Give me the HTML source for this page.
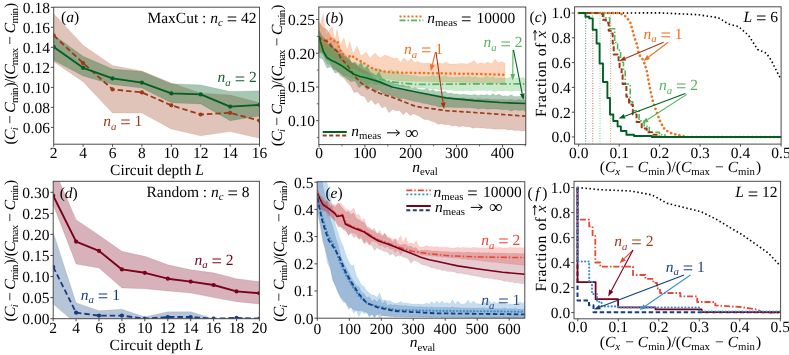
<!DOCTYPE html>
<html><head><meta charset="utf-8"><style>
html,body{margin:0;padding:0;background:#fff;width:789px;height:355px;overflow:hidden}
svg{display:block;text-rendering:geometricPrecision;will-change:transform}
text{font-family:"Liberation Serif",serif;font-size:15.5px}
</style></head><body>
<svg width="789" height="355" viewBox="0 0 789 355">
<rect width="789" height="355" fill="#fff"/>
<defs>
<clipPath id="ca"><rect x="53.7" y="7.2" width="205.8" height="137"/></clipPath>
<clipPath id="cb"><rect x="318.8" y="7" width="207" height="137.1"/></clipPath>
<clipPath id="cc"><rect x="574.6" y="6.8" width="206.5" height="136.7"/></clipPath>
<clipPath id="cd"><rect x="53.2" y="181.3" width="206.2" height="137.4"/></clipPath>
<clipPath id="ce"><rect x="317.2" y="181.7" width="207.6" height="136.5"/></clipPath>
<clipPath id="cf"><rect x="574" y="181.3" width="206.6" height="137.5"/></clipPath>
</defs>
<g clip-path="url(#ca)">
<polygon points="53.7,13.8 83.1,45.3 112.5,65.5 141.9,70.9 171.3,82.9 200.7,93.3 230.1,95 259.5,102.8 259.5,138.3 230.1,131.6 200.7,135.8 171.3,129 141.9,113.1 112.5,113.1 83.1,81.7 53.7,61.8" fill="#9c3a16" fill-opacity="0.3" stroke="#9c3a16" stroke-opacity="0.18" stroke-width="0.6"/>
<polygon points="53.7,34.9 83.1,56.3 112.5,69.1 141.9,71.6 171.3,83.8 200.7,84.9 230.1,91.6 259.5,90.8 259.5,116 230.1,120.7 200.7,103.9 171.3,102.8 141.9,88.1 112.5,84.4 83.1,75.9 53.7,60.3" fill="#005f23" fill-opacity="0.35" stroke="#005f23" stroke-opacity="0.21" stroke-width="0.6"/>
<polyline points="53.7,35.4 83.1,63.1 112.5,89.4 141.9,92.4 171.3,105.3 200.7,114.5 230.1,112.8 259.5,120.7" fill="none" stroke="#9c3a16" stroke-width="1.8" stroke-linejoin="round" stroke-linecap="butt" stroke-dasharray="5.5,3" />
<circle cx="53.7" cy="35.4" r="2.1" fill="#9c3a16"/>
<circle cx="83.1" cy="63.1" r="2.1" fill="#9c3a16"/>
<circle cx="112.5" cy="89.4" r="2.1" fill="#9c3a16"/>
<circle cx="141.9" cy="92.4" r="2.1" fill="#9c3a16"/>
<circle cx="171.3" cy="105.3" r="2.1" fill="#9c3a16"/>
<circle cx="200.7" cy="114.5" r="2.1" fill="#9c3a16"/>
<circle cx="230.1" cy="112.8" r="2.1" fill="#9c3a16"/>
<circle cx="259.5" cy="120.7" r="2.1" fill="#9c3a16"/>
<polyline points="53.7,46.9 83.1,67.8 112.5,78.4 141.9,82.6 171.3,93.4 200.7,94.4 230.1,106.6 259.5,104.9" fill="none" stroke="#005f23" stroke-width="1.9" stroke-linejoin="round" stroke-linecap="butt" />
<circle cx="53.7" cy="46.9" r="2.1" fill="#005f23"/>
<circle cx="83.1" cy="67.8" r="2.1" fill="#005f23"/>
<circle cx="112.5" cy="78.4" r="2.1" fill="#005f23"/>
<circle cx="141.9" cy="82.6" r="2.1" fill="#005f23"/>
<circle cx="171.3" cy="93.4" r="2.1" fill="#005f23"/>
<circle cx="200.7" cy="94.4" r="2.1" fill="#005f23"/>
<circle cx="230.1" cy="106.6" r="2.1" fill="#005f23"/>
<circle cx="259.5" cy="104.9" r="2.1" fill="#005f23"/>
</g>
<rect x="53.7" y="7.2" width="205.8" height="137" fill="none" stroke="#4a4a4a" stroke-width="1"/>
<line x1="50.9" y1="127.4" x2="53.7" y2="127.4" stroke="#4a4a4a" stroke-width="1"/>
<text x="49.9" y="132.8" text-anchor="end" class="t">0.06</text>
<line x1="50.9" y1="107.4" x2="53.7" y2="107.4" stroke="#4a4a4a" stroke-width="1"/>
<text x="49.9" y="112.8" text-anchor="end" class="t">0.08</text>
<line x1="50.9" y1="87.4" x2="53.7" y2="87.4" stroke="#4a4a4a" stroke-width="1"/>
<text x="49.9" y="92.8" text-anchor="end" class="t">0.10</text>
<line x1="50.9" y1="67.3" x2="53.7" y2="67.3" stroke="#4a4a4a" stroke-width="1"/>
<text x="49.9" y="72.7" text-anchor="end" class="t">0.12</text>
<line x1="50.9" y1="47.3" x2="53.7" y2="47.3" stroke="#4a4a4a" stroke-width="1"/>
<text x="49.9" y="52.7" text-anchor="end" class="t">0.14</text>
<line x1="50.9" y1="27.3" x2="53.7" y2="27.3" stroke="#4a4a4a" stroke-width="1"/>
<text x="49.9" y="32.7" text-anchor="end" class="t">0.16</text>
<line x1="50.9" y1="7.3" x2="53.7" y2="7.3" stroke="#4a4a4a" stroke-width="1"/>
<text x="49.9" y="12.7" text-anchor="end" class="t">0.18</text>
<line x1="53.7" y1="144.2" x2="53.7" y2="146.7" stroke="#4a4a4a" stroke-width="1"/>
<text x="53.7" y="158.4" text-anchor="middle" class="t">2</text>
<line x1="83.1" y1="144.2" x2="83.1" y2="146.7" stroke="#4a4a4a" stroke-width="1"/>
<text x="83.1" y="158.4" text-anchor="middle" class="t">4</text>
<line x1="112.5" y1="144.2" x2="112.5" y2="146.7" stroke="#4a4a4a" stroke-width="1"/>
<text x="112.5" y="158.4" text-anchor="middle" class="t">6</text>
<line x1="141.9" y1="144.2" x2="141.9" y2="146.7" stroke="#4a4a4a" stroke-width="1"/>
<text x="141.9" y="158.4" text-anchor="middle" class="t">8</text>
<line x1="171.3" y1="144.2" x2="171.3" y2="146.7" stroke="#4a4a4a" stroke-width="1"/>
<text x="171.3" y="158.4" text-anchor="middle" class="t">10</text>
<line x1="200.7" y1="144.2" x2="200.7" y2="146.7" stroke="#4a4a4a" stroke-width="1"/>
<text x="200.7" y="158.4" text-anchor="middle" class="t">12</text>
<line x1="230.1" y1="144.2" x2="230.1" y2="146.7" stroke="#4a4a4a" stroke-width="1"/>
<text x="230.1" y="158.4" text-anchor="middle" class="t">14</text>
<line x1="259.5" y1="144.2" x2="259.5" y2="146.7" stroke="#4a4a4a" stroke-width="1"/>
<text x="259.5" y="158.4" text-anchor="middle" class="t">16</text>
<text x="61" y="22.3" fill="#000" font-size="15.5" text-anchor="start" ><tspan>(</tspan><tspan font-style="italic">a</tspan><tspan>)</tspan></text>
<text x="256.5" y="22.5" fill="#000" font-size="15.5" text-anchor="end" ><tspan>MaxCut : </tspan><tspan font-style="italic">n</tspan><tspan font-size="10.8" font-style="italic" dy="3.7">c</tspan><tspan dy="-3.7">​</tspan><tspan> <tspan font-size="18.5" dy="2.4">=</tspan><tspan dy="-2.4"> </tspan>42</tspan></text>
<text x="217.6" y="82.3" fill="#1a5e34" font-size="15.5" text-anchor="start" ><tspan font-style="italic">n</tspan><tspan font-size="10.8" font-style="italic" dy="3.7">a</tspan><tspan dy="-3.7">​</tspan><tspan> <tspan font-size="18.5" dy="2.4">=</tspan><tspan dy="-2.4"> </tspan>2</tspan></text>
<text x="103.2" y="125.9" fill="#9c3a16" font-size="15.5" text-anchor="start" ><tspan font-style="italic">n</tspan><tspan font-size="10.8" font-style="italic" dy="3.7">a</tspan><tspan dy="-3.7">​</tspan><tspan> <tspan font-size="18.5" dy="2.4">=</tspan><tspan dy="-2.4"> </tspan>1</tspan></text>
<text x="157" y="175" fill="#000" font-size="15.5" text-anchor="middle" ><tspan>Circuit depth </tspan><tspan font-style="italic">L</tspan></text>
<text transform="translate(15.2,73.7) rotate(-90)" text-anchor="middle" font-size="15.5" textLength="141.5" lengthAdjust="spacing">(<tspan font-style="italic">C</tspan><tspan font-size="10.8" dy="3.1" font-style="italic">i</tspan><tspan dy="-3.1"> </tspan> − <tspan font-style="italic">C</tspan><tspan font-size="10.8" dy="3.1">min</tspan><tspan dy="-3.1"> </tspan>)/(<tspan font-style="italic">C</tspan><tspan font-size="10.8" dy="3.1">max</tspan><tspan dy="-3.1"> </tspan> − <tspan font-style="italic">C</tspan><tspan font-size="10.8" dy="3.1">min</tspan><tspan dy="-3.1"> </tspan>)</text>
<g clip-path="url(#cb)">
<polygon points="319,21.9 323,27.6 327,29.6 331,36.7 335,39.1 339,46.2 343,51.7 347,56.7 351,61.8 355,64.3 359,67.3 363,70.2 367,71.4 371,75.1 375,78.2 379,81.3 383,82.7 387,86 391,87.9 395,89.2 399,88.9 403,90.8 407,90.6 411,92.3 415,92.9 419,93.8 423,94.3 427,95.2 431,95.9 435,96.7 439,96.9 443,97.9 447,97.5 451,98.2 455,98.3 459,98.5 463,97.8 467,98.7 471,98.5 475,98.9 479,98.6 483,99.2 487,98.5 491,99.4 495,99.4 499,99.7 503,99.4 507,99.9 511,99.4 515,100.3 519,99.4 523,100.6 525.8,100.3 525.8,131.3 525.5,130.5 522,131.2 518.5,130.3 515,130.6 511.5,129.7 508,129.9 504.5,129.1 501,129.3 497.5,128.9 494,129.2 490.5,128.4 487,128.5 483.5,128 480,127.9 476.5,127.6 473,128.2 469.5,126.7 466,126.8 462.5,125.9 459,126.8 455.5,125.4 452,126.1 448.5,124.6 445,124.7 441.5,123.7 438,124.2 434.5,121.9 431,120.9 427.5,119.5 424,119.4 420.5,117.1 417,115.3 413.5,113.8 410,115.4 406.5,111.8 403,114.8 399.5,110.5 396,110.7 392.5,109.3 389,112.7 385.5,106.3 382,108.1 378.5,102.4 375,104.6 371.5,99.6 368,102.8 364.5,96.4 361,95.8 357.5,91.9 354,92.5 350.5,85.7 347,82.3 343.5,77.5 340,75.7 336.5,69.9 333,69.3 329.5,61.5 326,59.9 322.5,52.8 319,52.7" fill="#9c3a16" fill-opacity="0.3" stroke="#9c3a16" stroke-opacity="0.18" stroke-width="0.6"/>
<polygon points="319,30 323.1,13.4 326,35 330,30 332,26 335,40 337,29.4 340,45 344,38 347,50 350,41.3 353,54 357,46 361,56 366,52 370,58 375,53 380,58 385,55 394,58.5 397,58.1 400.5,62.4 404,57.4 407.5,61.9 411,58.2 414.5,62.5 418,61.5 421.5,63.3 425,63.3 428.5,63 432,63.6 435.5,63.9 439,62.7 442.5,63.8 446,62 449.5,64 453,64.1 456.5,63.9 460,63.5 463.5,63.6 467,64 470.5,62.9 474,60.5 477.5,64 481,62.7 484.5,63.7 488,62.1 491.5,64.1 495,59.2 498.5,62.8 502,61.5 505,63.6 505,83.2 400,81 380,78 360,72 340,62 319,50" fill="#f07020" fill-opacity="0.3" stroke="#f07020" stroke-opacity="0.18" stroke-width="0.6"/>
<polygon points="319,33.3 322,38.8 325,42.1 328,46.9 331,44.5 334,51.5 337,54.2 340,55.6 343,56 346,61 349,59.9 352,64.4 355,62 358,64.5 361,61.6 364,66.5 367,66.8 370,68.6 373,69 376,69.6 379,68.4 382,71.1 385,70.9 388,73.1 391,69.2 394,73.2 397,70.1 400,74.3 403,73.1 406,74.9 409,75.1 412,75.6 415,75.4 418,76.5 421,76.7 424,76.7 427,76.3 430,76.6 433,74.7 436,76.8 439,74.9 442,76.7 445,75 448,77.2 451,76.9 454,77.4 457,77.1 460,77.5 463,76.2 466,77.2 469,75.8 472,77.6 475,76.4 478,77.6 481,77.9 484,77.8 487,76.1 490,77.9 493,76.6 496,78.2 499,78.1 502,78.1 505,77.9 508,78.3 511,76.5 514,78.6 517,78 520,78.4 523,77.3 525.8,79 525.8,90.9 523,90.7 519,90.7 515,90.8 511,91.3 507,90.6 503,90.9 499,90.6 495,91.5 491,90.6 487,90.6 483,90.6 479,90.3 475,90.4 471,90.9 467,90.3 463,91 459,90.4 455,90.7 451,90 447,90.1 443,89.5 439,89.8 435,88.9 431,89 427,88.5 423,88.1 419,87.9 415,87.8 411,87.4 407,87.3 403,86.8 399,86.6 395,85.1 391,88.5 387,84.9 383,85.5 379,84 375,85 371,82.6 367,86.2 363,80.8 359,80.6 355,78.7 351,77.9 347,75 343,77.2 339,71.4 335,69.2 331,65 327,64 323,55.1 319,51.1" fill="#55b55c" fill-opacity="0.3" stroke="#55b55c" stroke-opacity="0.18" stroke-width="0.6"/>
<polygon points="319,30.2 322,36 325,38.9 328,44.6 331,42.4 334,48.3 337,49.1 340,53.3 343,53.4 346,58.7 349,57.4 352,63.4 355,62.1 358,66.5 361,62.4 364,69.3 367,66 370,72 373,73.4 376,75.8 379,71.8 382,78 385,79.7 388,81.5 391,82 394,83.7 397,84.1 400,85.3 403,84.8 406,86.6 409,85.9 412,88.6 415,87.5 418,89.1 421,89.6 424,89.8 427,88.6 430,90.9 433,89.5 436,91.7 439,91.2 442,92.1 445,91.3 448,93.4 451,93 454,94 457,94 460,94.7 463,94.3 466,94.6 469,95.1 472,94.9 475,94.4 478,95.4 481,94.8 484,95.3 487,94.6 490,95.8 493,93.8 496,95.6 499,94 502,96.1 505,95.7 508,96.4 511,94.8 514,96.4 517,96.4 520,96.5 523,94.9 525.8,96.5 525.8,111.7 523,110.1 519,110.6 515,109.7 511,110.9 507,109.4 503,109.8 499,109.2 495,108.9 491,109 487,109.3 483,108.3 479,109.1 475,108.3 471,107.8 467,107.7 463,107.5 459,107.5 455,107.5 451,107.2 447,107.3 443,107 439,106.9 435,105.6 431,105 427,103.8 423,103.2 419,102.1 415,101.6 411,100.4 407,99.4 403,98.3 399,98.9 395,96.4 391,95.7 387,93.9 383,93.8 379,89.6 375,93.2 371,86.8 367,90 363,84.7 359,87.8 355,80.8 351,81.7 347,78.7 343,75.2 339,72 335,73.1 331,66.8 327,68.1 323,59.5 319,57.5" fill="#005f23" fill-opacity="0.32" stroke="#005f23" stroke-opacity="0.192" stroke-width="0.6"/>
<polyline points="319,38 323.6,44.6 327,40 330.4,38.7 334.2,41.3 337.6,41.3 339.6,49.7 343.4,55.3 346.4,58.1 351.5,55.3 354.9,58.1 359.9,60.7 366,64.6 374,69.2 384,71.5 394,72.5 420,73 450,73.5 480,74 505,74.8" fill="none" stroke="#f07020" stroke-width="2.5" stroke-linejoin="round" stroke-linecap="round" stroke-dasharray="0.1,4.3" />
<polyline points="319,34 321,44 323.6,51 328,57 333,60.5 341.4,64 354,71.5 366.8,76.8 392,81.9 416,84.4 460,84 525.8,83.8" fill="none" stroke="#55b55c" stroke-width="1.8" stroke-linejoin="round" stroke-linecap="butt" stroke-dasharray="7,2.5,1.5,2.5" />
<polyline points="319,36 320.2,38.7 327,41.3 332.9,48 338,52.2 341.3,59 345.6,63.2 350,69 354,75.5 360,82 366.8,87 379.5,93.3 392,97.1 416,106.5 446,110.6 474,112.5 525.8,116.2" fill="none" stroke="#9c3a16" stroke-width="1.7" stroke-linejoin="round" stroke-linecap="butt" stroke-dasharray="4.5,2.5" />
<polyline points="319,36 320.5,42 323.6,52 327,57.5 331.2,60.3 336,62.5 341.4,65.4 347,69.5 354,74.3 360,76.5 366.8,78 379.5,81.9 392,87 416,92 446,97.9 474,100.7 500,102.5 525.8,103.5" fill="none" stroke="#005f23" stroke-width="1.7" stroke-linejoin="round" stroke-linecap="butt" />
</g>
<rect x="318.8" y="7" width="207" height="137.6" fill="none" stroke="#4a4a4a" stroke-width="1"/>
<line x1="316" y1="120.7" x2="318.8" y2="120.7" stroke="#4a4a4a" stroke-width="1"/>
<text x="315" y="126.1" text-anchor="end" class="t">0.10</text>
<line x1="316" y1="87" x2="318.8" y2="87" stroke="#4a4a4a" stroke-width="1"/>
<text x="315" y="92.4" text-anchor="end" class="t">0.15</text>
<line x1="316" y1="53.2" x2="318.8" y2="53.2" stroke="#4a4a4a" stroke-width="1"/>
<text x="315" y="58.6" text-anchor="end" class="t">0.20</text>
<line x1="316" y1="19.5" x2="318.8" y2="19.5" stroke="#4a4a4a" stroke-width="1"/>
<text x="315" y="24.9" text-anchor="end" class="t">0.25</text>
<line x1="316.8" y1="137.6" x2="318.8" y2="137.6" stroke="#4a4a4a" stroke-width="0.8"/>
<line x1="316.8" y1="103.8" x2="318.8" y2="103.8" stroke="#4a4a4a" stroke-width="0.8"/>
<line x1="316.8" y1="70.1" x2="318.8" y2="70.1" stroke="#4a4a4a" stroke-width="0.8"/>
<line x1="316.8" y1="36.4" x2="318.8" y2="36.4" stroke="#4a4a4a" stroke-width="0.8"/>
<line x1="319" y1="144.6" x2="319" y2="147.1" stroke="#4a4a4a" stroke-width="1"/>
<text x="319" y="157.8" text-anchor="middle" class="t">0</text>
<line x1="364.9" y1="144.6" x2="364.9" y2="147.1" stroke="#4a4a4a" stroke-width="1"/>
<text x="364.9" y="157.8" text-anchor="middle" class="t">100</text>
<line x1="410.7" y1="144.6" x2="410.7" y2="147.1" stroke="#4a4a4a" stroke-width="1"/>
<text x="410.7" y="157.8" text-anchor="middle" class="t">200</text>
<line x1="456.6" y1="144.6" x2="456.6" y2="147.1" stroke="#4a4a4a" stroke-width="1"/>
<text x="456.6" y="157.8" text-anchor="middle" class="t">300</text>
<line x1="502.4" y1="144.6" x2="502.4" y2="147.1" stroke="#4a4a4a" stroke-width="1"/>
<text x="502.4" y="157.8" text-anchor="middle" class="t">400</text>
<line x1="341.9" y1="144.6" x2="341.9" y2="146.4" stroke="#4a4a4a" stroke-width="0.8"/>
<line x1="387.8" y1="144.6" x2="387.8" y2="146.4" stroke="#4a4a4a" stroke-width="0.8"/>
<line x1="433.6" y1="144.6" x2="433.6" y2="146.4" stroke="#4a4a4a" stroke-width="0.8"/>
<line x1="479.5" y1="144.6" x2="479.5" y2="146.4" stroke="#4a4a4a" stroke-width="0.8"/>
<line x1="525.3" y1="144.6" x2="525.3" y2="146.4" stroke="#4a4a4a" stroke-width="0.8"/>
<text x="325.4" y="22.5" fill="#000" font-size="15.5" text-anchor="start" ><tspan>(</tspan><tspan font-style="italic">b</tspan><tspan>)</tspan></text>
<polyline points="399.5,16.5 423.4,16.5" fill="none" stroke="#f07020" stroke-width="1.8" stroke-linejoin="round" stroke-linecap="butt" stroke-dasharray="2,2" />
<polyline points="399.5,20.3 423.4,20.3" fill="none" stroke="#55b55c" stroke-width="1.8" stroke-linejoin="round" stroke-linecap="butt" stroke-dasharray="6,2,1.5,2" />
<text x="427.2" y="22.5" fill="#000" font-size="15.5" text-anchor="start" ><tspan font-style="italic">n</tspan><tspan font-size="10.8" dy="3.4">meas</tspan><tspan dy="-3.4"> </tspan><tspan> <tspan font-size="18.5" dy="2.4">=</tspan><tspan dy="-2.4"> </tspan> 10000</tspan></text>
<polyline points="322.7,132 346.8,132" fill="none" stroke="#005f23" stroke-width="2" stroke-linejoin="round" stroke-linecap="butt" />
<polyline points="322.7,135.4 346.8,135.4" fill="none" stroke="#9c3a16" stroke-width="2" stroke-linejoin="round" stroke-linecap="butt" stroke-dasharray="4,2.5" />
<text x="351.3" y="136" fill="#000" font-size="15.5" text-anchor="start" ><tspan font-style="italic">n</tspan><tspan font-size="10.8" dy="3.4">meas</tspan><tspan dy="-3.4"> </tspan></text>
<line x1="387" y1="132.8" x2="399.1" y2="132.8" stroke="#000" stroke-width="1"/>
<polyline points="395.8,129.8 399.6,132.8 395.8,135.8" fill="none" stroke="#000" stroke-width="1"/>
<text x="405" y="138.6" style="font-size:19px">∞</text>
<text x="404" y="54" fill="#f07020" font-size="15.5" text-anchor="start" ><tspan font-style="italic">n</tspan><tspan font-size="10.8" font-style="italic" dy="3.7">a</tspan><tspan dy="-3.7">​</tspan><tspan> <tspan font-size="18.5" dy="2.4">=</tspan><tspan dy="-2.4"> </tspan>1</tspan></text>
<text x="483.5" y="47.3" fill="#55b55c" font-size="15.5" text-anchor="start" ><tspan font-style="italic">n</tspan><tspan font-size="10.8" font-style="italic" dy="3.7">a</tspan><tspan dy="-3.7">​</tspan><tspan> <tspan font-size="18.5" dy="2.4">=</tspan><tspan dy="-2.4"> </tspan>2</tspan></text>
<line x1="435.5" y1="52" x2="432.4" y2="64.7" stroke="#f07020" stroke-width="1.1"/>
<polygon points="430,64.1 430.8,71 434.7,65.3" fill="#f07020"/>
<line x1="436" y1="52" x2="443.1" y2="102.6" stroke="#9c3a16" stroke-width="1.1"/>
<polygon points="440.7,102.9 444,109 445.5,102.2" fill="#9c3a16"/>
<line x1="513" y1="50" x2="512.8" y2="73.9" stroke="#55b55c" stroke-width="1.1"/>
<polygon points="510.4,73.9 512.8,80.4 515.2,73.9" fill="#55b55c"/>
<line x1="513.5" y1="50" x2="522.2" y2="93.6" stroke="#005f23" stroke-width="1.1"/>
<polygon points="519.9,94.1 523.5,100 524.6,93.2" fill="#005f23"/>
<text x="425" y="171.8" fill="#000" font-size="15.5" text-anchor="middle" ><tspan font-style="italic">n</tspan><tspan font-size="10.8" dy="3.4">eval</tspan><tspan dy="-3.4"> </tspan></text>
<text transform="translate(281.6,75.4) rotate(-90)" text-anchor="middle" font-size="15.5" textLength="141.5" lengthAdjust="spacing">(<tspan font-style="italic">C</tspan><tspan font-size="10.8" dy="3.1" font-style="italic">i</tspan><tspan dy="-3.1"> </tspan> − <tspan font-style="italic">C</tspan><tspan font-size="10.8" dy="3.1">min</tspan><tspan dy="-3.1"> </tspan>)/(<tspan font-style="italic">C</tspan><tspan font-size="10.8" dy="3.1">max</tspan><tspan dy="-3.1"> </tspan> − <tspan font-style="italic">C</tspan><tspan font-size="10.8" dy="3.1">min</tspan><tspan dy="-3.1"> </tspan>)</text>
<g clip-path="url(#cc)">
<line x1="585.7" y1="13" x2="585.7" y2="144" stroke="#005f23" stroke-width="0.9" stroke-dasharray="1,1.5" stroke-opacity="0.8"/>
<line x1="592.8" y1="13" x2="592.8" y2="144" stroke="#9c3a16" stroke-width="0.9" stroke-dasharray="1,1.5" stroke-opacity="0.8"/>
<line x1="600" y1="13" x2="600" y2="144" stroke="#55b55c" stroke-width="0.9" stroke-dasharray="1,1.5" stroke-opacity="0.8"/>
<line x1="610.6" y1="13" x2="610.6" y2="144" stroke="#f07020" stroke-width="0.9" stroke-dasharray="1,1.5" stroke-opacity="0.8"/>
<polyline points="578.7,13 660,12.9 698,14.7 718.3,17.7 728.4,24 738.6,26.6 748.7,35.5 757.6,49.4 766.4,53.2 771.5,60.8 779.1,76 782,80" fill="none" stroke="#000" stroke-width="1.6" stroke-linejoin="round" stroke-linecap="butt" stroke-dasharray="1.5,2.5" />
<polyline points="578.7,13 619.6,13 626.5,16.9 630.4,22.8 632.4,29.7 634.4,37.6 637.3,45.5 638.8,54.1 643.4,60.3 646.5,69.6 649.6,86.7 652.7,100.6 655.8,109.9 660.5,122.3 665.1,130 672,133.5 680,135.5 688,137 782,137" fill="none" stroke="#f07020" stroke-width="2.6" stroke-linejoin="round" stroke-linecap="round" stroke-dasharray="0.1,4.2" />
<polyline points="578.7,13 602.8,13 603.8,13.5 603.8,17.9 609.7,17.9 609.7,28.7 614.7,28.7 614.7,42.5 617.6,42.5 617.6,50.4 620.6,50.4 620.6,62.2 623.5,62.2 623.5,71.1 625.2,71.1 625.2,84 630.2,84 630.2,101.8 632.8,101.8 632.8,110.7 639.1,110.7 639.1,120.9 644.2,120.9 644.2,126.4 649.3,126.4 649.3,132.3 659.4,132.3 659.4,134.8 665,134.8 665,137 782,137" fill="none" stroke="#55b55c" stroke-width="1.6" stroke-linejoin="round" stroke-linecap="butt" stroke-dasharray="6,2,1.5,2" />
<polyline points="578.7,13 599,13 601.8,13.8 602.8,13.8 602.8,19.8 605.8,19.8 605.8,22.8 608.7,22.8 608.7,30.7 610.7,30.7 610.7,33.6 612.7,33.6 612.7,43.5 613.7,43.5 613.7,54.4 617.6,54.4 617.6,55.3 618.6,55.3 618.6,61.3 619.6,61.3 619.6,67.2 621.6,67.2 621.6,75 622.6,75 622.6,84 626.4,84 626.4,96.8 629,96.8 629,104.4 632.8,104.4 632.8,114.5 636.6,114.5 636.6,122 641.7,122 641.7,128.5 646.7,128.5 646.7,132.3 651.8,132.3 651.8,134.8 659.4,134.8 659.4,137 782,137" fill="none" stroke="#9c3a16" stroke-width="2.0" stroke-linejoin="round" stroke-linecap="butt" stroke-dasharray="5,2.5" />
<polyline points="578.7,13 585.4,13 585.4,16.8 589.3,16.8 589.3,18.4 592.7,18.4 592.7,29.7 596.6,29.7 596.6,43.5 599.6,43.5 599.6,63.5 603,63.5 603,82 607.4,82 607.4,98 610,98 610,114.5 613.3,114.5 613.3,121 617.6,121 617.6,126.4 620.9,126.4 620.9,131 626.4,131 626.4,134.8 634,134.8 634,136 651.8,136 651.8,137 782,137" fill="none" stroke="#005f23" stroke-width="1.9" stroke-linejoin="round" stroke-linecap="butt" />
</g>
<rect x="574.6" y="6.8" width="206.5" height="137.3" fill="none" stroke="#4a4a4a" stroke-width="1"/>
<line x1="571.8" y1="137" x2="574.6" y2="137" stroke="#4a4a4a" stroke-width="1"/>
<text x="570.8" y="142.4" text-anchor="end" class="t">0.0</text>
<line x1="571.8" y1="112.2" x2="574.6" y2="112.2" stroke="#4a4a4a" stroke-width="1"/>
<text x="570.8" y="117.6" text-anchor="end" class="t">0.2</text>
<line x1="571.8" y1="87.4" x2="574.6" y2="87.4" stroke="#4a4a4a" stroke-width="1"/>
<text x="570.8" y="92.8" text-anchor="end" class="t">0.4</text>
<line x1="571.8" y1="62.6" x2="574.6" y2="62.6" stroke="#4a4a4a" stroke-width="1"/>
<text x="570.8" y="68" text-anchor="end" class="t">0.6</text>
<line x1="571.8" y1="37.8" x2="574.6" y2="37.8" stroke="#4a4a4a" stroke-width="1"/>
<text x="570.8" y="43.2" text-anchor="end" class="t">0.8</text>
<line x1="571.8" y1="13" x2="574.6" y2="13" stroke="#4a4a4a" stroke-width="1"/>
<text x="570.8" y="18.4" text-anchor="end" class="t">1.0</text>
<line x1="578.7" y1="144.1" x2="578.7" y2="146.6" stroke="#4a4a4a" stroke-width="1"/>
<text x="578.7" y="157.7" text-anchor="middle" class="t">0.0</text>
<line x1="619.2" y1="144.1" x2="619.2" y2="146.6" stroke="#4a4a4a" stroke-width="1"/>
<text x="619.2" y="157.7" text-anchor="middle" class="t">0.1</text>
<line x1="659.6" y1="144.1" x2="659.6" y2="146.6" stroke="#4a4a4a" stroke-width="1"/>
<text x="659.6" y="157.7" text-anchor="middle" class="t">0.2</text>
<line x1="700.1" y1="144.1" x2="700.1" y2="146.6" stroke="#4a4a4a" stroke-width="1"/>
<text x="700.1" y="157.7" text-anchor="middle" class="t">0.3</text>
<line x1="740.5" y1="144.1" x2="740.5" y2="146.6" stroke="#4a4a4a" stroke-width="1"/>
<text x="740.5" y="157.7" text-anchor="middle" class="t">0.4</text>
<line x1="781" y1="144.1" x2="781" y2="146.6" stroke="#4a4a4a" stroke-width="1"/>
<text x="781" y="157.7" text-anchor="middle" class="t">0.5</text>
<text x="529.5" y="21.8" fill="#000" font-size="15.5" text-anchor="start" ><tspan>(</tspan><tspan font-style="italic">c</tspan><tspan>)</tspan></text>
<text x="778" y="21.5" fill="#000" font-size="15.5" text-anchor="end" ><tspan font-style="italic">L</tspan><tspan> <tspan font-size="18.5" dy="2.4">=</tspan><tspan dy="-2.4"> </tspan>6</tspan></text>
<text x="643.4" y="38.6" fill="#f07020" font-size="15.5" text-anchor="start" ><tspan font-style="italic">n</tspan><tspan font-size="10.8" font-style="italic" dy="3.7">a</tspan><tspan dy="-3.7">​</tspan><tspan> <tspan font-size="18.5" dy="2.4">=</tspan><tspan dy="-2.4"> </tspan>1</tspan></text>
<text x="658.9" y="89.8" fill="#55b55c" font-size="15.5" text-anchor="start" ><tspan font-style="italic">n</tspan><tspan font-size="10.8" font-style="italic" dy="3.7">a</tspan><tspan dy="-3.7">​</tspan><tspan> <tspan font-size="18.5" dy="2.4">=</tspan><tspan dy="-2.4"> </tspan>2</tspan></text>
<line x1="663.6" y1="42.3" x2="625.2" y2="58.4" stroke="#9c3a16" stroke-width="1.1"/>
<polygon points="624.3,56.2 619.2,60.9 626.1,60.6" fill="#9c3a16"/>
<line x1="668.2" y1="42.3" x2="648.6" y2="57" stroke="#f07020" stroke-width="1.1"/>
<polygon points="647.2,55.1 643.4,60.9 650,58.9" fill="#f07020"/>
<line x1="685.3" y1="93.5" x2="624.7" y2="116.3" stroke="#005f23" stroke-width="1.1"/>
<polygon points="623.8,114.1 618.6,118.6 625.5,118.6" fill="#005f23"/>
<line x1="686.8" y1="94.4" x2="647.4" y2="119.8" stroke="#55b55c" stroke-width="1.1"/>
<polygon points="646.1,117.8 641.9,123.3 648.7,121.8" fill="#55b55c"/>
<text x="680.5" y="172.2" text-anchor="middle" font-size="15.5">(<tspan font-style="italic">C</tspan><tspan font-size="10.8" dy="3.1" font-style="italic">x</tspan><tspan dy="-3.1"> </tspan> − <tspan font-style="italic">C</tspan><tspan font-size="10.8" dy="3.1">min</tspan><tspan dy="-3.1"> </tspan>)/(<tspan font-style="italic">C</tspan><tspan font-size="10.8" dy="3.1">max</tspan><tspan dy="-3.1"> </tspan> − <tspan font-style="italic">C</tspan><tspan font-size="10.8" dy="3.1">min</tspan><tspan dy="-3.1"> </tspan>)</text>
<text transform="translate(546.3,73.9) rotate(-90)" text-anchor="middle" font-size="15.5" textLength="86" lengthAdjust="spacing">Fraction of <tspan font-style="italic">x</tspan></text>
<line x1="535" y1="30.8" x2="535" y2="40.5" stroke="#000" stroke-width="0.9"/><polyline points="533.3,33.3 535,30.3 536.7,33.3" fill="none" stroke="#000" stroke-width="0.9"/>
<g clip-path="url(#cd)">
<polygon points="53.2,167 76.1,219.7 99,235.3 121.9,251.3 144.8,256.3 167.8,264.8 190.7,269.8 213.6,272.8 236.5,278.7 259.4,281.6 259.4,304 236.5,301.8 213.6,297.6 190.7,293 167.8,290.9 144.8,288.8 121.9,287.9 99,268.1 76.1,263.9 53.2,204.9" fill="#7b0019" fill-opacity="0.3" stroke="#7b0019" stroke-opacity="0.18" stroke-width="0.6"/>
<polygon points="53.2,232.3 76.1,302.7 99,310.7 121.9,309.2 144.8,317 167.8,311.8 190.7,311.8 213.6,318.7 236.5,317.4 259.4,318.7 259.4,322.9 236.5,320.8 213.6,322.9 190.7,320.8 167.8,320.8 144.8,322.9 121.9,320.8 99,322.9 76.1,323.8 53.2,304" fill="#133f7f" fill-opacity="0.3" stroke="#133f7f" stroke-opacity="0.18" stroke-width="0.6"/>
<polyline points="53.2,195.7 76.1,241.6 99,250.9 121.9,269.4 144.8,272.8 167.8,278.7 190.7,281.6 213.6,285 236.5,291.4 259.4,293.2" fill="none" stroke="#7b0019" stroke-width="1.9" stroke-linejoin="round" stroke-linecap="butt" />
<circle cx="53.2" cy="195.7" r="2.1" fill="#7b0019"/>
<circle cx="76.1" cy="241.6" r="2.1" fill="#7b0019"/>
<circle cx="99" cy="250.9" r="2.1" fill="#7b0019"/>
<circle cx="121.9" cy="269.4" r="2.1" fill="#7b0019"/>
<circle cx="144.8" cy="272.8" r="2.1" fill="#7b0019"/>
<circle cx="167.8" cy="278.7" r="2.1" fill="#7b0019"/>
<circle cx="190.7" cy="281.6" r="2.1" fill="#7b0019"/>
<circle cx="213.6" cy="285" r="2.1" fill="#7b0019"/>
<circle cx="236.5" cy="291.4" r="2.1" fill="#7b0019"/>
<circle cx="259.4" cy="293.2" r="2.1" fill="#7b0019"/>
<polyline points="53.2,266.9 76.1,312.7 99,315.6 121.9,315.6 144.8,318.7 167.8,317 190.7,317 213.6,318.7 236.5,317.9 259.4,318.7" fill="none" stroke="#133f7f" stroke-width="1.8" stroke-linejoin="round" stroke-linecap="butt" stroke-dasharray="5.5,3" />
<circle cx="53.2" cy="266.9" r="2.1" fill="#133f7f"/>
<circle cx="76.1" cy="312.7" r="2.1" fill="#133f7f"/>
<circle cx="99" cy="315.6" r="2.1" fill="#133f7f"/>
<circle cx="121.9" cy="315.6" r="2.1" fill="#133f7f"/>
<circle cx="144.8" cy="318.7" r="2.1" fill="#133f7f"/>
<circle cx="167.8" cy="317" r="2.1" fill="#133f7f"/>
<circle cx="190.7" cy="317" r="2.1" fill="#133f7f"/>
<circle cx="213.6" cy="318.7" r="2.1" fill="#133f7f"/>
<circle cx="236.5" cy="317.9" r="2.1" fill="#133f7f"/>
<circle cx="259.4" cy="318.7" r="2.1" fill="#133f7f"/>
</g>
<rect x="53.2" y="181.3" width="206.2" height="137.4" fill="none" stroke="#4a4a4a" stroke-width="1"/>
<line x1="50.4" y1="318.7" x2="53.2" y2="318.7" stroke="#4a4a4a" stroke-width="1"/>
<text x="49.4" y="324.1" text-anchor="end" class="t">0.00</text>
<line x1="50.4" y1="297.6" x2="53.2" y2="297.6" stroke="#4a4a4a" stroke-width="1"/>
<text x="49.4" y="303" text-anchor="end" class="t">0.05</text>
<line x1="50.4" y1="276.6" x2="53.2" y2="276.6" stroke="#4a4a4a" stroke-width="1"/>
<text x="49.4" y="282" text-anchor="end" class="t">0.10</text>
<line x1="50.4" y1="255.5" x2="53.2" y2="255.5" stroke="#4a4a4a" stroke-width="1"/>
<text x="49.4" y="260.9" text-anchor="end" class="t">0.15</text>
<line x1="50.4" y1="234.4" x2="53.2" y2="234.4" stroke="#4a4a4a" stroke-width="1"/>
<text x="49.4" y="239.8" text-anchor="end" class="t">0.20</text>
<line x1="50.4" y1="213.4" x2="53.2" y2="213.4" stroke="#4a4a4a" stroke-width="1"/>
<text x="49.4" y="218.8" text-anchor="end" class="t">0.25</text>
<line x1="50.4" y1="192.3" x2="53.2" y2="192.3" stroke="#4a4a4a" stroke-width="1"/>
<text x="49.4" y="197.7" text-anchor="end" class="t">0.30</text>
<line x1="53.2" y1="318.7" x2="53.2" y2="321.2" stroke="#4a4a4a" stroke-width="1"/>
<text x="53.2" y="332.9" text-anchor="middle" class="t">2</text>
<line x1="76.1" y1="318.7" x2="76.1" y2="321.2" stroke="#4a4a4a" stroke-width="1"/>
<text x="76.1" y="332.9" text-anchor="middle" class="t">4</text>
<line x1="99" y1="318.7" x2="99" y2="321.2" stroke="#4a4a4a" stroke-width="1"/>
<text x="99" y="332.9" text-anchor="middle" class="t">6</text>
<line x1="121.9" y1="318.7" x2="121.9" y2="321.2" stroke="#4a4a4a" stroke-width="1"/>
<text x="121.9" y="332.9" text-anchor="middle" class="t">8</text>
<line x1="144.8" y1="318.7" x2="144.8" y2="321.2" stroke="#4a4a4a" stroke-width="1"/>
<text x="144.8" y="332.9" text-anchor="middle" class="t">10</text>
<line x1="167.8" y1="318.7" x2="167.8" y2="321.2" stroke="#4a4a4a" stroke-width="1"/>
<text x="167.8" y="332.9" text-anchor="middle" class="t">12</text>
<line x1="190.7" y1="318.7" x2="190.7" y2="321.2" stroke="#4a4a4a" stroke-width="1"/>
<text x="190.7" y="332.9" text-anchor="middle" class="t">14</text>
<line x1="213.6" y1="318.7" x2="213.6" y2="321.2" stroke="#4a4a4a" stroke-width="1"/>
<text x="213.6" y="332.9" text-anchor="middle" class="t">16</text>
<line x1="236.5" y1="318.7" x2="236.5" y2="321.2" stroke="#4a4a4a" stroke-width="1"/>
<text x="236.5" y="332.9" text-anchor="middle" class="t">18</text>
<line x1="259.4" y1="318.7" x2="259.4" y2="321.2" stroke="#4a4a4a" stroke-width="1"/>
<text x="259.4" y="332.9" text-anchor="middle" class="t">20</text>
<text x="59.7" y="198.2" fill="#000" font-size="15.5" text-anchor="start" ><tspan>(</tspan><tspan font-style="italic">d</tspan><tspan>)</tspan></text>
<text x="249.5" y="196.6" fill="#000" font-size="15.5" text-anchor="end" ><tspan>Random : </tspan><tspan font-style="italic">n</tspan><tspan font-size="10.8" font-style="italic" dy="3.7">c</tspan><tspan dy="-3.7">​</tspan><tspan> <tspan font-size="18.5" dy="2.4">=</tspan><tspan dy="-2.4"> </tspan>8</tspan></text>
<text x="194.5" y="264.6" fill="#7b0019" font-size="15.5" text-anchor="start" ><tspan font-style="italic">n</tspan><tspan font-size="10.8" font-style="italic" dy="3.7">a</tspan><tspan dy="-3.7">​</tspan><tspan> <tspan font-size="18.5" dy="2.4">=</tspan><tspan dy="-2.4"> </tspan>2</tspan></text>
<text x="80.8" y="299.6" fill="#133f7f" font-size="15.5" text-anchor="start" ><tspan font-style="italic">n</tspan><tspan font-size="10.8" font-style="italic" dy="3.7">a</tspan><tspan dy="-3.7">​</tspan><tspan> <tspan font-size="18.5" dy="2.4">=</tspan><tspan dy="-2.4"> </tspan>1</tspan></text>
<text x="156.5" y="349.5" fill="#000" font-size="15.5" text-anchor="middle" ><tspan>Circuit depth </tspan><tspan font-style="italic">L</tspan></text>
<text transform="translate(15.2,250.7) rotate(-90)" text-anchor="middle" font-size="15.5" textLength="141.5" lengthAdjust="spacing">(<tspan font-style="italic">C</tspan><tspan font-size="10.8" dy="3.1" font-style="italic">i</tspan><tspan dy="-3.1"> </tspan> − <tspan font-style="italic">C</tspan><tspan font-size="10.8" dy="3.1">min</tspan><tspan dy="-3.1"> </tspan>)/(<tspan font-style="italic">C</tspan><tspan font-size="10.8" dy="3.1">max</tspan><tspan dy="-3.1"> </tspan> − <tspan font-style="italic">C</tspan><tspan font-size="10.8" dy="3.1">min</tspan><tspan dy="-3.1"> </tspan>)</text>
<g clip-path="url(#ce)">
<polygon points="317.3,149.7 319.9,159.8 322.5,164.8 325.1,178.1 327.7,184.9 330.3,196.1 332.9,210.5 335.5,224.8 338.1,233.2 340.7,240.8 343.3,246.7 345.9,255 348.5,261.2 351.1,265.4 353.7,265.3 356.3,276.1 358.9,280.3 361.5,285.2 364.1,286.4 366.7,291 369.3,293 371.9,295.1 374.5,295.5 377.1,297.3 379.7,292.9 382.3,300.2 384.9,300 387.5,300.7 390.1,300.8 392.7,302.5 395.3,303.5 397.9,303.1 400.5,301.4 403.1,303.2 405.7,303 408.3,303.4 410.9,304.1 413.5,303.9 416.1,303.9 418.7,304 421.3,304.3 423.9,304.5 426.5,303 429.1,304.2 431.7,301.7 434.3,303.9 436.9,300.9 439.5,303.7 442.1,301.1 444.7,303.4 447.3,302.6 449.9,304.1 452.5,299.8 455.1,304.3 457.7,301 460.3,303.7 462.9,304.3 465.5,303.5 468.1,300.2 470.7,303.7 473.3,301 475.9,303.5 478.5,303.8 481.1,303.9 483.7,302.1 486.3,303.5 488.9,300.6 491.5,303.5 494.1,301.7 496.7,303.4 499.3,301.2 501.9,303.7 504.5,303.4 507.1,304.5 509.7,303.8 512.3,304.1 514.9,304 517.5,303.5 520.1,301.8 522.7,303.7 524.8,301.5 524.8,318.3 522.7,317.9 520.1,317.8 517.5,317.9 514.9,318.2 512.3,317.7 509.7,318.3 507.1,317.7 504.5,317.9 501.9,317.6 499.3,317.8 496.7,317.6 494.1,317.9 491.5,317.5 488.9,317.5 486.3,317.6 483.7,318.1 481.1,317.5 478.5,317.9 475.9,317.6 473.3,317.7 470.7,317.5 468.1,317.4 465.5,317.5 462.9,317.7 460.3,317.3 457.7,317.7 455.1,317.3 452.5,317.9 449.9,317.2 447.3,317.4 444.7,317.2 442.1,317.8 439.5,317.3 436.9,317.4 434.3,317.1 431.7,317.7 429.1,317.2 426.5,317.2 423.9,317.2 421.3,317.1 418.7,317 416.1,317.3 413.5,317 410.9,317.1 408.3,317 405.7,317.3 403.1,317 400.5,317 397.9,316.8 395.3,316.8 392.7,316.7 390.1,316.6 387.5,316.3 384.9,316.1 382.3,315.7 379.7,314.1 377.1,314.4 374.5,317.4 371.9,314.2 369.3,317.1 366.7,312.6 364.1,313.8 361.5,311.4 358.9,316.7 356.3,310.6 353.7,309.8 351.1,307.7 348.5,306.4 345.9,302.8 343.3,302.5 340.7,298.2 338.1,291.6 335.5,286.4 332.9,280.5 330.3,268.8 327.7,263.8 325.1,249.3 322.5,236.4 319.9,221.2 317.3,207.6" fill="#3a8fd0" fill-opacity="0.3" stroke="#3a8fd0" stroke-opacity="0.18" stroke-width="0.6"/>
<polygon points="317.3,156.5 319.9,173.1 322.5,182.9 325.1,196.8 327.7,203.8 330.3,219.6 332.9,227 335.5,237.2 338.1,244.9 340.7,255.2 343.3,262.3 345.9,266.9 348.5,271.7 351.1,277.2 353.7,281.5 356.3,285.9 358.9,286.4 361.5,292.5 364.1,293.8 366.7,297.8 369.3,296.7 371.9,301.3 374.5,299.3 377.1,302.3 379.7,298.6 382.3,303.9 384.9,301 387.5,305.8 390.1,304.2 392.7,305.2 395.3,304.8 397.9,305.6 400.5,305.6 403.1,306.1 405.7,305.4 408.3,306.4 410.9,306.2 413.5,306.7 416.1,306.7 418.7,307 421.3,306.4 423.9,307.3 426.5,306.8 429.1,307.4 431.7,307 434.3,307.5 436.9,307.5 439.5,307.6 442.1,307.5 444.7,307.5 447.3,307.4 449.9,307.8 452.5,307.1 455.1,307.7 457.7,307.6 460.3,308 462.9,307.9 465.5,308.1 468.1,307.9 470.7,308.2 473.3,308.1 475.9,308.3 478.5,307.9 481.1,308.2 483.7,307.8 486.3,308.5 488.9,308.2 491.5,308.5 494.1,308.4 496.7,308.7 499.3,308.7 501.9,308.8 504.5,308 507.1,308.9 509.7,308.5 512.3,308.9 514.9,308.3 517.5,309.1 520.1,308.9 522.7,309.2 524.8,308.9 524.8,318.6 522.7,318 520.1,318.4 517.5,318 514.9,318 512.3,318 509.7,318 507.1,317.9 504.5,317.9 501.9,317.8 499.3,318.1 496.7,317.8 494.1,317.8 491.5,317.7 488.9,317.8 486.3,317.6 483.7,317.5 481.1,317.5 478.5,318 475.9,317.5 473.3,317.5 470.7,317.4 468.1,317.7 465.5,317.4 462.9,317.3 460.3,317.3 457.7,317.6 455.1,317.3 452.5,317.3 449.9,317.1 447.3,317.3 444.7,317.2 442.1,317.4 439.5,317.1 436.9,317.2 434.3,316.9 431.7,316.9 429.1,316.9 426.5,316.9 423.9,316.8 421.3,317.1 418.7,316.8 416.1,316.7 413.5,316.7 410.9,317 408.3,316.7 405.7,316.7 403.1,316.5 400.5,316.7 397.9,316.5 395.3,317 392.7,316.2 390.1,316.5 387.5,315.8 384.9,315.9 382.3,315.4 379.7,318 377.1,314.1 374.5,317.3 371.9,314.1 369.3,316.3 366.7,312.3 364.1,311.7 361.5,310.3 358.9,310.9 356.3,310.2 353.7,313 351.1,307.2 348.5,309.6 345.9,302.7 343.3,300.1 340.7,297 338.1,293.1 335.5,285.6 332.9,280.4 330.3,267.5 327.7,258.1 325.1,248.8 322.5,240.7 319.9,224.1 317.3,212.8" fill="#133f7f" fill-opacity="0.22" stroke="#133f7f" stroke-opacity="0.132" stroke-width="0.6"/>
<polygon points="317.3,188.6 319.9,195 322.5,197 325.1,201 327.7,199.4 330.3,203.1 332.9,204.3 335.5,205 338.1,203.8 340.7,203.2 343.3,206.1 345.9,209.2 348.5,210.1 351.1,210.9 353.7,207.7 356.3,215.1 358.9,214.2 361.5,220.4 364.1,218.5 366.7,227.3 369.3,229.4 371.9,230.5 374.5,227.8 377.1,233.9 379.7,230.2 382.3,235.1 384.9,234.1 387.5,237 390.1,237.3 392.7,239.4 395.3,238.4 397.9,240.7 400.5,235.5 403.1,242.9 405.7,237.1 408.3,244.1 410.9,242.6 413.5,244.3 416.1,240.7 418.7,246.3 421.3,247.3 423.9,247.1 426.5,245.5 429.1,246.8 431.7,246.6 434.3,246.9 436.9,246.5 439.5,247.4 442.1,247.2 444.7,247.5 447.3,247.2 449.9,247.9 452.5,247.9 455.1,247.9 457.7,247.2 460.3,247.9 462.9,247.3 465.5,247.8 468.1,247.7 470.7,247.9 473.3,247.2 475.9,247.8 478.5,247.7 481.1,247.8 483.7,247.7 486.3,247.9 488.9,248 491.5,247.8 494.1,247.2 496.7,247.8 499.3,247.2 501.9,248 504.5,247.8 507.1,247.9 509.7,247.2 512.3,247.8 514.9,247.6 517.5,247.9 520.1,247.6 522.7,247.9 524.8,247.2 524.8,265.7 522.7,265.1 520.1,264.9 517.5,264.5 514.9,264.5 512.3,264 509.7,264.1 507.1,263.5 504.5,263.2 501.9,263 499.3,263.1 496.7,262.3 494.1,262.3 491.5,261.9 488.9,261.7 486.3,261.3 483.7,261.3 481.1,260.8 478.5,260.5 475.9,260.1 473.3,260 470.7,259.5 468.1,259.9 465.5,259.1 462.9,259.2 460.3,258.5 457.7,258.2 455.1,258 452.5,258 449.9,257.4 447.3,257.2 444.7,256.9 442.1,257.3 439.5,256.4 436.9,256.4 434.3,256 431.7,256.3 429.1,255.5 426.5,255.4 423.9,255.1 421.3,255 418.7,253.9 416.1,254.5 413.5,252.6 410.9,253.1 408.3,252.1 405.7,251.1 403.1,250.9 400.5,254.5 397.9,250 395.3,252.5 392.7,248.7 390.1,249.3 387.5,246.3 384.9,247.7 382.3,245.1 379.7,246.1 377.1,242.4 374.5,241.8 371.9,240.7 369.3,245.2 366.7,239.5 364.1,243.1 361.5,236.6 358.9,238.4 356.3,234.1 353.7,233.4 351.1,232.2 348.5,235.2 345.9,229.8 343.3,227.9 340.7,226.4 338.1,225.1 335.5,220.6 332.9,219.2 330.3,215.3 327.7,216.3 325.1,210.3 322.5,211 319.9,205.4 317.3,202.8" fill="#ee4433" fill-opacity="0.25" stroke="#ee4433" stroke-opacity="0.15" stroke-width="0.6"/>
<polygon points="317.3,189 319.9,195.8 322.5,199.4 325.1,202.2 327.7,201.1 330.3,205.9 332.9,205.3 335.5,207.4 338.1,202.5 340.7,206.1 343.3,209.2 345.9,212.1 348.5,211.6 351.1,214.5 353.7,212.9 356.3,218.6 358.9,219.8 361.5,221.8 364.1,222.5 366.7,226.6 369.3,227.3 371.9,229.8 374.5,231.2 377.1,233.6 379.7,233.6 382.3,236.4 384.9,233.1 387.5,238.1 390.1,238.7 392.7,241.9 395.3,238.9 397.9,243.9 400.5,245 403.1,244.6 405.7,244.2 408.3,246.4 410.9,246.1 413.5,248.1 416.1,247.5 418.7,250.9 421.3,250.2 423.9,250.3 426.5,250.2 429.1,250.6 431.7,250.9 434.3,251 436.9,251.1 439.5,251.4 442.1,251.6 444.7,251.8 447.3,251.7 449.9,252 452.5,252.2 455.1,252.3 457.7,251.8 460.3,252.3 462.9,252.4 465.5,252.6 468.1,252 470.7,252.6 473.3,252.5 475.9,252.9 478.5,252.3 481.1,252.9 483.7,252.4 486.3,253 488.9,252.6 491.5,253.2 494.1,252.7 496.7,253.3 499.3,253.1 501.9,253.3 504.5,252.9 507.1,253.5 509.7,253.4 512.3,253.5 514.9,253.3 517.5,253.6 520.1,253.7 522.7,253.7 524.8,253.3 524.8,284 522.7,283.5 520.1,283.5 517.5,282.6 514.9,282.9 512.3,281.8 509.7,282.2 507.1,281.1 504.5,281.4 501.9,280.2 499.3,279.9 496.7,279.3 494.1,279.2 491.5,278.6 488.9,278.3 486.3,277.7 483.7,278.1 481.1,277 478.5,276.5 475.9,276.1 473.3,275.7 470.7,275.2 468.1,274.6 465.5,274.2 462.9,273.8 460.3,273 457.7,273.4 455.1,272.2 452.5,271.7 449.9,271.3 447.3,271.5 444.7,270.2 442.1,270.5 439.5,269.2 436.9,269.3 434.3,268 431.7,267.9 429.1,266.4 426.5,265.6 423.9,264.9 421.3,264.2 418.7,262.2 416.1,260.8 413.5,260.4 410.9,263.4 408.3,258.9 405.7,257.4 403.1,257 400.5,255.6 397.9,255.5 395.3,256.7 392.7,253.6 390.1,255.3 387.5,252.3 384.9,251.6 382.3,250.4 379.7,249.4 377.1,247.8 374.5,250.5 371.9,245.6 369.3,244.5 366.7,242.3 364.1,243.7 361.5,238.5 358.9,239.5 356.3,236 353.7,237.8 351.1,233.3 348.5,235 345.9,230.9 343.3,230.1 340.7,226.9 338.1,226.9 335.5,221.6 332.9,218.6 330.3,216.3 327.7,212.4 325.1,210.7 322.5,210.4 319.9,204.7 317.3,207.5" fill="#7b0019" fill-opacity="0.2" stroke="#7b0019" stroke-opacity="0.12" stroke-width="0.6"/>
<polyline points="317.5,193 320,198 322.9,203.6 328.8,207.6 334.7,212.5 337,215.5 339.5,215 342.6,214.5 345.5,223.3 354.4,227.3 364.3,231 370,235 378.5,240 386.9,242.7 395.4,246.2 412.3,251.3 429.2,253.8 450,255.9 480,257 524.8,257.6" fill="none" stroke="#ee4433" stroke-width="1.6" stroke-linejoin="round" stroke-linecap="butt" stroke-dasharray="6,2,1.5,2" />
<polyline points="317.5,193.8 320,199 322.9,204.6 328.8,208.6 334.7,213.5 337,216.5 339.5,216 342.6,215.5 345.5,224.3 354.4,228.3 364.3,232 370,236 378.5,241 386.9,243.7 395.4,247.1 403.8,250.5 412.3,253.8 420.8,257.2 429.2,259.8 437.7,261.5 450,264.3 457.6,265.9 480.2,269.3 502.7,272.2 524.8,274.3" fill="none" stroke="#7b0019" stroke-width="1.6" stroke-linejoin="round" stroke-linecap="butt" />
<polyline points="317.5,196 319,204 321.9,216 324.9,226 328.5,236 334.7,247 339.8,262 345.4,274 351,284 359,296 366.8,303 378.1,306.5 395,309.9 435,310.8 524.8,311.7" fill="none" stroke="#3a8fd0" stroke-width="2.2" stroke-linejoin="round" stroke-linecap="round" stroke-dasharray="0.1,3.3" />
<polyline points="317.5,198 319,205.6 321.9,219.4 324.9,229.3 328.5,240 334.7,249 339.8,258 345.4,271.5 351,281.7 359,294 366.8,303.1 378.1,307.6 395,311 435,313.3 524.8,314.4" fill="none" stroke="#133f7f" stroke-width="1.8" stroke-linejoin="round" stroke-linecap="butt" stroke-dasharray="4.5,2.5" />
</g>
<rect x="317.2" y="181.7" width="207.6" height="136.5" fill="none" stroke="#4a4a4a" stroke-width="1"/>
<line x1="314.4" y1="318.2" x2="317.2" y2="318.2" stroke="#4a4a4a" stroke-width="1"/>
<text x="313.4" y="323.6" text-anchor="end" class="t">0.0</text>
<line x1="314.4" y1="291" x2="317.2" y2="291" stroke="#4a4a4a" stroke-width="1"/>
<text x="313.4" y="296.4" text-anchor="end" class="t">0.1</text>
<line x1="314.4" y1="263.8" x2="317.2" y2="263.8" stroke="#4a4a4a" stroke-width="1"/>
<text x="313.4" y="269.2" text-anchor="end" class="t">0.2</text>
<line x1="314.4" y1="236.6" x2="317.2" y2="236.6" stroke="#4a4a4a" stroke-width="1"/>
<text x="313.4" y="242" text-anchor="end" class="t">0.3</text>
<line x1="314.4" y1="209.4" x2="317.2" y2="209.4" stroke="#4a4a4a" stroke-width="1"/>
<text x="313.4" y="214.8" text-anchor="end" class="t">0.4</text>
<line x1="314.4" y1="182.2" x2="317.2" y2="182.2" stroke="#4a4a4a" stroke-width="1"/>
<text x="313.4" y="187.6" text-anchor="end" class="t">0.5</text>
<line x1="317.3" y1="318.2" x2="317.3" y2="320.7" stroke="#4a4a4a" stroke-width="1"/>
<text x="317.3" y="333.5" text-anchor="middle" class="t">0</text>
<line x1="349.3" y1="318.2" x2="349.3" y2="320.7" stroke="#4a4a4a" stroke-width="1"/>
<text x="349.3" y="333.5" text-anchor="middle" class="t">100</text>
<line x1="381.3" y1="318.2" x2="381.3" y2="320.7" stroke="#4a4a4a" stroke-width="1"/>
<text x="381.3" y="333.5" text-anchor="middle" class="t">200</text>
<line x1="413.2" y1="318.2" x2="413.2" y2="320.7" stroke="#4a4a4a" stroke-width="1"/>
<text x="413.2" y="333.5" text-anchor="middle" class="t">300</text>
<line x1="445.2" y1="318.2" x2="445.2" y2="320.7" stroke="#4a4a4a" stroke-width="1"/>
<text x="445.2" y="333.5" text-anchor="middle" class="t">400</text>
<line x1="477.2" y1="318.2" x2="477.2" y2="320.7" stroke="#4a4a4a" stroke-width="1"/>
<text x="477.2" y="333.5" text-anchor="middle" class="t">500</text>
<line x1="509.2" y1="318.2" x2="509.2" y2="320.7" stroke="#4a4a4a" stroke-width="1"/>
<text x="509.2" y="333.5" text-anchor="middle" class="t">600</text>
<text x="325.4" y="198.4" fill="#000" font-size="15.5" text-anchor="start" ><tspan>(</tspan><tspan font-style="italic">e</tspan><tspan>)</tspan></text>
<polyline points="406.3,190.3 430.8,190.3" fill="none" stroke="#ee4433" stroke-width="1.8" stroke-linejoin="round" stroke-linecap="butt" stroke-dasharray="6,2,1.5,2" />
<polyline points="406.3,194.3 430.8,194.3" fill="none" stroke="#3a8fd0" stroke-width="1.8" stroke-linejoin="round" stroke-linecap="butt" stroke-dasharray="2,2" />
<text x="433.5" y="197" fill="#000" font-size="15.5" text-anchor="start" ><tspan font-style="italic">n</tspan><tspan font-size="10.8" dy="3.4">meas</tspan><tspan dy="-3.4"> </tspan><tspan> <tspan font-size="18.5" dy="2.4">=</tspan><tspan dy="-2.4"> </tspan> 10000</tspan></text>
<polyline points="406.3,206 430.8,206" fill="none" stroke="#7b0019" stroke-width="2" stroke-linejoin="round" stroke-linecap="butt" />
<polyline points="406.3,210.2 430.8,210.2" fill="none" stroke="#133f7f" stroke-width="2" stroke-linejoin="round" stroke-linecap="butt" stroke-dasharray="4,2.5" />
<text x="435" y="212" fill="#000" font-size="15.5" text-anchor="start" ><tspan font-style="italic">n</tspan><tspan font-size="10.8" dy="3.4">meas</tspan><tspan dy="-3.4"> </tspan></text>
<line x1="470.8" y1="207.4" x2="481.9" y2="207.4" stroke="#000" stroke-width="1"/>
<polyline points="478.6,204.4 482.4,207.4 478.6,210.4" fill="none" stroke="#000" stroke-width="1"/>
<text x="489" y="213.2" style="font-size:19px">∞</text>
<text x="481.2" y="244.8" fill="#ee4433" font-size="15.5" text-anchor="start" ><tspan font-style="italic">n</tspan><tspan font-size="10.8" font-style="italic" dy="3.7">a</tspan><tspan dy="-3.7">​</tspan><tspan> <tspan font-size="18.5" dy="2.4">=</tspan><tspan dy="-2.4"> </tspan>2</tspan></text>
<text x="481.2" y="305" fill="#2a4a8a" font-size="15.5" text-anchor="start" ><tspan font-style="italic">n</tspan><tspan font-size="10.8" font-style="italic" dy="3.7">a</tspan><tspan dy="-3.7">​</tspan><tspan> <tspan font-size="18.5" dy="2.4">=</tspan><tspan dy="-2.4"> </tspan>1</tspan></text>
<text x="422.5" y="347.4" fill="#000" font-size="15.5" text-anchor="middle" ><tspan font-style="italic">n</tspan><tspan font-size="10.8" dy="3.4">eval</tspan><tspan dy="-3.4"> </tspan></text>
<text transform="translate(284.3,251.1) rotate(-90)" text-anchor="middle" font-size="15.5" textLength="141.5" lengthAdjust="spacing">(<tspan font-style="italic">C</tspan><tspan font-size="10.8" dy="3.1" font-style="italic">i</tspan><tspan dy="-3.1"> </tspan> − <tspan font-style="italic">C</tspan><tspan font-size="10.8" dy="3.1">min</tspan><tspan dy="-3.1"> </tspan>)/(<tspan font-style="italic">C</tspan><tspan font-size="10.8" dy="3.1">max</tspan><tspan dy="-3.1"> </tspan> − <tspan font-style="italic">C</tspan><tspan font-size="10.8" dy="3.1">min</tspan><tspan dy="-3.1"> </tspan>)</text>
<g clip-path="url(#cf)">
<polyline points="577.5,187.5 600,189.7 631.1,191 651.9,194.9 667.4,203.4 701.1,211.7 716.7,219.5 729.6,227.3 742.6,235 755.6,244.1 768.5,253.2 780.6,266.2" fill="none" stroke="#000" stroke-width="1.6" stroke-linejoin="round" stroke-linecap="butt" stroke-dasharray="1.5,2.5" />
<polyline points="577.5,187.5 577.5,219.6 589.2,219.6 589.2,226.4 592.6,226.4 592.6,235.9 595.3,235.9 595.3,262.5 600.3,262.5 600.3,266.6 633,266.6 633,275 645.4,275 645.4,278.8 653.3,278.8 653.3,282.8 657,282.8 657,288.5 660,288.5 660,293 680.3,293 680.3,296.4 697.2,296.4 697.2,302 715.3,302 715.3,305.4 740,307 757.4,309.5 763,312.5 782,312.5" fill="none" stroke="#ee4433" stroke-width="1.8" stroke-linejoin="round" stroke-linecap="butt" stroke-dasharray="6,2,1.5,2" />
<polyline points="577.5,187.5 577.5,300.5 589,300.5 589,305.2 593.5,305.2 593.5,312.3 782,312.3" fill="none" stroke="#133f7f" stroke-width="2" stroke-linejoin="round" stroke-linecap="butt" stroke-dasharray="4.5,2.5" />
<polyline points="577.5,187.5 577.5,282.2 595.6,282.2 595.6,299.2 618.1,299.2 618.1,307.3 655.5,307.3 655.5,309.4 701.7,309.4 701.7,312.1 782,312.1" fill="none" stroke="#7b0019" stroke-width="1.8" stroke-linejoin="round" stroke-linecap="butt" />
<polyline points="577.5,187.5 577.5,261.5 589.2,261.5 589.2,281.6 592,281.6 592,294 597,294 597,301.8 601.6,301.8 601.6,306.4 618,306.4 618,307.5 699,307.5 699,311.5 782,311.5" fill="none" stroke="#3a8fd0" stroke-width="2.2" stroke-linejoin="round" stroke-linecap="round" stroke-dasharray="0.1,3.3" />
</g>
<rect x="574" y="181.3" width="206.6" height="137.5" fill="none" stroke="#4a4a4a" stroke-width="1"/>
<line x1="571.2" y1="312.6" x2="574" y2="312.6" stroke="#4a4a4a" stroke-width="1"/>
<text x="570.2" y="317.9" text-anchor="end" class="t">0.0</text>
<line x1="571.2" y1="287.6" x2="574" y2="287.6" stroke="#4a4a4a" stroke-width="1"/>
<text x="570.2" y="292.9" text-anchor="end" class="t">0.2</text>
<line x1="571.2" y1="262.6" x2="574" y2="262.6" stroke="#4a4a4a" stroke-width="1"/>
<text x="570.2" y="267.9" text-anchor="end" class="t">0.4</text>
<line x1="571.2" y1="237.6" x2="574" y2="237.6" stroke="#4a4a4a" stroke-width="1"/>
<text x="570.2" y="243" text-anchor="end" class="t">0.6</text>
<line x1="571.2" y1="212.6" x2="574" y2="212.6" stroke="#4a4a4a" stroke-width="1"/>
<text x="570.2" y="218" text-anchor="end" class="t">0.8</text>
<line x1="571.2" y1="187.6" x2="574" y2="187.6" stroke="#4a4a4a" stroke-width="1"/>
<text x="570.2" y="193" text-anchor="end" class="t">1.0</text>
<line x1="577.8" y1="318.8" x2="577.8" y2="321.3" stroke="#4a4a4a" stroke-width="1"/>
<text x="577.8" y="332.1" text-anchor="middle" class="t">0.0</text>
<line x1="618.3" y1="318.8" x2="618.3" y2="321.3" stroke="#4a4a4a" stroke-width="1"/>
<text x="618.3" y="332.1" text-anchor="middle" class="t">0.1</text>
<line x1="658.8" y1="318.8" x2="658.8" y2="321.3" stroke="#4a4a4a" stroke-width="1"/>
<text x="658.8" y="332.1" text-anchor="middle" class="t">0.2</text>
<line x1="699.3" y1="318.8" x2="699.3" y2="321.3" stroke="#4a4a4a" stroke-width="1"/>
<text x="699.3" y="332.1" text-anchor="middle" class="t">0.3</text>
<line x1="739.8" y1="318.8" x2="739.8" y2="321.3" stroke="#4a4a4a" stroke-width="1"/>
<text x="739.8" y="332.1" text-anchor="middle" class="t">0.4</text>
<line x1="780.3" y1="318.8" x2="780.3" y2="321.3" stroke="#4a4a4a" stroke-width="1"/>
<text x="780.3" y="332.1" text-anchor="middle" class="t">0.5</text>
<text x="527.5" y="197.5" fill="#000" font-size="15.5" text-anchor="start" textLength="20" lengthAdjust="spacing"><tspan>(</tspan><tspan font-style="italic">f</tspan><tspan>)</tspan></text>
<text x="777.6" y="197.4" fill="#000" font-size="15.5" text-anchor="end" ><tspan font-style="italic">L</tspan><tspan> <tspan font-size="18.5" dy="2.4">=</tspan><tspan dy="-2.4"> </tspan>12</tspan></text>
<text x="614.3" y="245.9" fill="#a03c1a" font-size="15.5" text-anchor="start" ><tspan font-style="italic">n</tspan><tspan font-size="10.8" font-style="italic" dy="3.7">a</tspan><tspan dy="-3.7">​</tspan><tspan> <tspan font-size="18.5" dy="2.4">=</tspan><tspan dy="-2.4"> </tspan>2</tspan></text>
<text x="665.7" y="271.6" fill="#1f3f80" font-size="15.5" text-anchor="start" ><tspan font-style="italic">n</tspan><tspan font-size="10.8" font-style="italic" dy="3.7">a</tspan><tspan dy="-3.7">​</tspan><tspan> <tspan font-size="18.5" dy="2.4">=</tspan><tspan dy="-2.4"> </tspan>1</tspan></text>
<line x1="633" y1="250.1" x2="624.2" y2="258.7" stroke="#ee4433" stroke-width="1.1"/>
<polygon points="622.5,257 619.5,263.2 625.8,260.4" fill="#ee4433"/>
<line x1="633" y1="250.1" x2="611.3" y2="290.7" stroke="#7b0019" stroke-width="1.1"/>
<polygon points="609.2,289.5 608.2,296.4 613.4,291.8" fill="#7b0019"/>
<line x1="684.1" y1="275" x2="600.1" y2="307.1" stroke="#133f7f" stroke-width="1.1"/>
<polygon points="599.2,304.8 594,309.4 600.9,309.3" fill="#133f7f"/>
<line x1="690.5" y1="275" x2="645.1" y2="306.2" stroke="#3a8fd0" stroke-width="1.1"/>
<polygon points="643.7,304.2 639.7,309.9 646.4,308.2" fill="#3a8fd0"/>
<text x="680.5" y="347.2" text-anchor="middle" font-size="15.5">(<tspan font-style="italic">C</tspan><tspan font-size="10.8" dy="3.1" font-style="italic">x</tspan><tspan dy="-3.1"> </tspan> − <tspan font-style="italic">C</tspan><tspan font-size="10.8" dy="3.1">min</tspan><tspan dy="-3.1"> </tspan>)/(<tspan font-style="italic">C</tspan><tspan font-size="10.8" dy="3.1">max</tspan><tspan dy="-3.1"> </tspan> − <tspan font-style="italic">C</tspan><tspan font-size="10.8" dy="3.1">min</tspan><tspan dy="-3.1"> </tspan>)</text>
<text transform="translate(545.5,248.4) rotate(-90)" text-anchor="middle" font-size="15.5" textLength="86" lengthAdjust="spacing">Fraction of <tspan font-style="italic">x</tspan></text>
<line x1="534.7" y1="205.6" x2="534.7" y2="215.3" stroke="#000" stroke-width="0.9"/><polyline points="533,208.1 534.7,205.1 536.4,208.1" fill="none" stroke="#000" stroke-width="0.9"/>
</svg></body></html>
